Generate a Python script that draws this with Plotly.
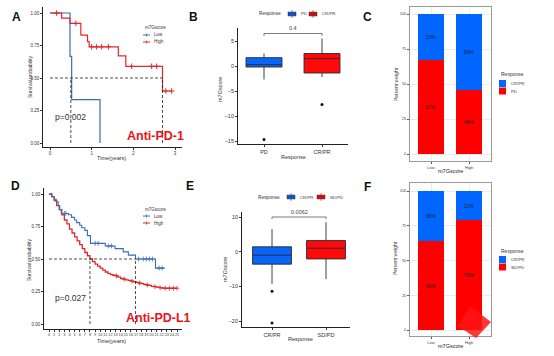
import plotly.graph_objects as go

W, H = 554, 356
FONT = "Liberation Sans, Arial, sans-serif"

# ---------------- data ----------------
# Panel A (Anti-PD-1) Kaplan-Meier
a_low_t = [0, 0.48, 0.52, 1.2]
a_low_s = [1.0, 0.667, 0.333, 0.0]
a_high_t = [0, 0.28, 0.48, 0.74, 0.90, 0.94, 1.64, 1.82, 2.70, 2.92]
a_high_s = [1.0, 0.96, 0.92, 0.83, 0.78, 0.74, 0.67, 0.59, 0.40, 0.40]
a_high_cens_t = [0.16, 0.62, 1.0, 1.12, 1.24, 1.40, 1.96, 2.44, 2.56, 2.78, 2.92]
a_high_cens_s = [1.0, 0.92, 0.74, 0.74, 0.74, 0.74, 0.59, 0.59, 0.59, 0.40, 0.40]
a_medians = [0.5, 2.7]
a_pval = "p=0.002"

# Panel B boxplot (m7Gscore by response)
b_cats = ["PD", "CR/PR"]
b_q1 = [-0.2, -1.4]
b_med = [0.27, 1.47]
b_q3 = [1.67, 2.5]
b_lo = [-2.7, -2.2]
b_hi = [2.5, 5.5]
b_out = [-14.7, -7.7]
b_p = "0.4"

# Panel C stacked percent
c_groups = ["Low", "High"]
c_pd = [67, 46]
c_crpr = [33, 54]

# Panel D (Anti-PD-L1) Kaplan-Meier
d_low_t = [0, 0.6, 1.0, 1.4, 1.8, 2.1, 2.4, 3.8, 4.4, 5.0, 5.4, 6.0, 6.4, 7.0, 7.5, 8.1,
           11.0, 12.9, 14.5, 15.5, 16.9, 20.8, 22.6]
d_low_s = [1.0, 0.98, 0.96, 0.94, 0.91, 0.88, 0.85, 0.84, 0.82, 0.80, 0.78, 0.76, 0.74, 0.72,
           0.68, 0.62, 0.60, 0.58, 0.555, 0.53, 0.50, 0.43, 0.43]
d_low_cens_t = [3.0, 3.3, 9.0, 9.6, 11.6, 12.2, 17.5, 18.4, 19.0, 19.6, 20.2, 21.5, 22.1]
d_low_cens_s = [0.85, 0.85, 0.62, 0.62, 0.60, 0.60, 0.50, 0.50, 0.50, 0.50, 0.50, 0.43, 0.43]
d_high_t = [0, 0.5, 1, 1.5, 2, 2.5, 3, 3.5, 4, 4.5, 5, 5.5, 6, 6.5, 7, 7.5, 8, 8.5, 9, 9.5,
            10, 10.5, 11, 11.5, 12, 12.5, 13, 13.5, 14, 14.5, 15, 15.5, 16, 16.5, 17, 17.5,
            18, 18.5, 19, 19.5, 20, 20.5, 21, 21.5, 22, 22.5, 23, 23.5, 24, 24.5, 25]
d_high_s = [1.0, 0.98, 0.95, 0.91, 0.88, 0.84, 0.80, 0.77, 0.73, 0.70, 0.67, 0.64, 0.61,
            0.58, 0.55, 0.525, 0.50, 0.48, 0.46, 0.445, 0.43, 0.415, 0.40, 0.39, 0.38,
            0.375, 0.37, 0.36, 0.35, 0.345, 0.34, 0.335, 0.33, 0.325, 0.32, 0.315, 0.31,
            0.305, 0.30, 0.297, 0.29, 0.287, 0.284, 0.28, 0.277, 0.275, 0.275, 0.275,
            0.275, 0.275, 0.275]
d_high_cens_t = [13.2, 14.7, 16.2, 17.7, 19.2, 20.7, 21.7, 22.7, 23.5, 24.3, 25.0]
d_high_cens_s = [0.37, 0.345, 0.33, 0.315, 0.30, 0.287, 0.28, 0.275, 0.275, 0.275, 0.275]
d_medians = [8.0, 16.9]
d_pval = "p=0.027"

# Panel E boxplot
e_cats = ["CR/PR", "SD/PD"]
e_q1 = [-3.6, -2.1]
e_med = [-1.0, 1.0]
e_q3 = [1.4, 3.2]
e_lo = [-9.3, -7.9]
e_hi = [6.5, 8.5]
e_out_x = ["CR/PR", "CR/PR"]
e_out_y = [-11.4, -20.6]
e_p = "0.0062"

# Panel F stacked percent
f_groups = ["Low", "High"]
f_sdpd = [64, 79]
f_crpr = [36, 21]

# ---------------- styling helpers ----------------
KM_BLUE = "#3A6DB5"
KM_RED = "#E0282E"
BOX_BLUE = "#0A64F5"
BOX_RED = "#FF0A0A"
BAR_BLUE = "#0066FF"
BAR_RED = "#FF0000"
DASH = "3px,2px"


def dx(a, b):
    return [a / W, b / W]


def dy(top, bot):
    return [1 - bot / H, 1 - top / H]


def lin(p0, v0, p1, v1, p):
    return v0 + (p - p0) * (v1 - v0) / (p1 - p0)


def px(x):
    return x / W


def py(y):
    return 1 - y / H


fig = go.Figure()

# ---------- Panel A ----------
fig.add_trace(go.Scatter(x=a_low_t, y=a_low_s, mode="lines", line=dict(color=KM_BLUE, width=1.2, shape="hv"),
                         xaxis="x", yaxis="y", showlegend=False))
fig.add_trace(go.Scatter(x=a_high_t, y=a_high_s, mode="lines", line=dict(color=KM_RED, width=1.2, shape="hv"),
                         xaxis="x", yaxis="y", showlegend=False))
fig.add_trace(go.Scatter(x=a_high_cens_t, y=a_high_cens_s, mode="markers",
                         marker=dict(symbol="cross-thin", size=4, line=dict(color=KM_RED, width=1)),
                         xaxis="x", yaxis="y", showlegend=False))
fig.add_trace(go.Scatter(x=[0, max(a_medians)], y=[0.5, 0.5], mode="lines",
                         line=dict(color="#222", width=0.8, dash=DASH), xaxis="x", yaxis="y", showlegend=False))
for m in a_medians:
    fig.add_trace(go.Scatter(x=[m, m], y=[0, 0.5], mode="lines",
                             line=dict(color="#222", width=0.8, dash=DASH), xaxis="x", yaxis="y", showlegend=False))

# ---------- Panel B ----------
for i, col in enumerate([BOX_BLUE, BOX_RED]):
    fig.add_trace(go.Box(x=[b_cats[i]], q1=[b_q1[i]], median=[b_med[i]], q3=[b_q3[i]],
                         lowerfence=[b_lo[i]], upperfence=[b_hi[i]], fillcolor=col,
                         line=dict(color="#2a2a2a", width=0.9), whiskerwidth=0, width=0.62,
                         boxpoints=False, xaxis="x2", yaxis="y2", showlegend=False))
fig.add_trace(go.Scatter(x=b_cats, y=b_out, mode="markers", marker=dict(color="#111", size=3),
                         xaxis="x2", yaxis="y2", showlegend=False))
fig.add_trace(go.Scatter(x=[b_cats[0], b_cats[0], b_cats[1], b_cats[1]], y=[6.0, 6.5, 6.5, 6.0], mode="lines",
                         line=dict(color="#444", width=0.7), xaxis="x2", yaxis="y2", showlegend=False))

# ---------- Panel C ----------
fig.add_trace(go.Bar(x=c_groups, y=c_pd, marker=dict(color=BAR_RED, line=dict(width=0)), width=0.68,
                     text=[f"{v}%" for v in c_pd], textposition="inside", insidetextanchor="middle",
                     textfont=dict(size=5, color="#222"), xaxis="x3", yaxis="y3", showlegend=False))
fig.add_trace(go.Bar(x=c_groups, y=c_crpr, marker=dict(color=BAR_BLUE, line=dict(width=0)), width=0.68,
                     text=[f"{v}%" for v in c_crpr], textposition="inside", insidetextanchor="middle",
                     textfont=dict(size=5, color="#222"), xaxis="x3", yaxis="y3", showlegend=False))

# ---------- Panel D ----------
fig.add_trace(go.Scatter(x=d_high_t, y=d_high_s, mode="lines", line=dict(color=KM_RED, width=1.3, shape="hv"),
                         xaxis="x4", yaxis="y4", showlegend=False))
fig.add_trace(go.Scatter(x=d_low_t, y=d_low_s, mode="lines", line=dict(color=KM_BLUE, width=1.1, shape="hv"),
                         xaxis="x4", yaxis="y4", showlegend=False))
fig.add_trace(go.Scatter(x=d_low_cens_t, y=d_low_cens_s, mode="markers",
                         marker=dict(symbol="cross-thin", size=3.5, line=dict(color=KM_BLUE, width=0.8)),
                         xaxis="x4", yaxis="y4", showlegend=False))
fig.add_trace(go.Scatter(x=d_high_cens_t, y=d_high_cens_s, mode="markers",
                         marker=dict(symbol="cross-thin", size=3.5, line=dict(color=KM_RED, width=0.8)),
                         xaxis="x4", yaxis="y4", showlegend=False))
fig.add_trace(go.Scatter(x=[0, max(d_medians)], y=[0.5, 0.5], mode="lines",
                         line=dict(color="#222", width=0.8, dash=DASH), xaxis="x4", yaxis="y4", showlegend=False))
for m in d_medians:
    fig.add_trace(go.Scatter(x=[m, m], y=[0, 0.5], mode="lines",
                             line=dict(color="#222", width=0.8, dash=DASH), xaxis="x4", yaxis="y4", showlegend=False))

# ---------- Panel E ----------
for i, col in enumerate([BOX_BLUE, BOX_RED]):
    fig.add_trace(go.Box(x=[e_cats[i]], q1=[e_q1[i]], median=[e_med[i]], q3=[e_q3[i]],
                         lowerfence=[e_lo[i]], upperfence=[e_hi[i]], fillcolor=col,
                         line=dict(color="#2a2a2a", width=0.9), whiskerwidth=0, width=0.72,
                         boxpoints=False, xaxis="x5", yaxis="y5", showlegend=False))
fig.add_trace(go.Scatter(x=e_out_x, y=e_out_y, mode="markers", marker=dict(color="#111", size=3),
                         xaxis="x5", yaxis="y5", showlegend=False))
fig.add_trace(go.Scatter(x=[e_cats[0], e_cats[0], e_cats[1], e_cats[1]], y=[9.4, 10, 10, 9.4], mode="lines",
                         line=dict(color="#444", width=0.7), xaxis="x5", yaxis="y5", showlegend=False))

# ---------- Panel F ----------
fig.add_trace(go.Bar(x=f_groups, y=f_sdpd, marker=dict(color=BAR_RED, line=dict(width=0)), width=0.68,
                     text=[f"{v}%" for v in f_sdpd], textposition="inside", insidetextanchor="middle",
                     textfont=dict(size=5, color="#222"), xaxis="x6", yaxis="y6", showlegend=False))
fig.add_trace(go.Bar(x=f_groups, y=f_crpr, marker=dict(color=BAR_BLUE, line=dict(width=0)), width=0.68,
                     text=[f"{v}%" for v in f_crpr], textposition="inside", insidetextanchor="middle",
                     textfont=dict(size=5, color="#222"), xaxis="x6", yaxis="y6", showlegend=False))

# ---------------- axes ----------------
axis_common = dict(showline=True, linecolor="#222", linewidth=0.8, ticks="outside", ticklen=2,
                   tickwidth=0.7, tickcolor="#333", showgrid=False, zeroline=False, tickangle=0,
                   tickfont=dict(size=4.5, color="#333", family=FONT))
bw_common = dict(showline=True, linecolor="#9a9a9a", linewidth=0.7, mirror=True, ticks="outside",
                 ticklen=2, tickwidth=0.6, tickcolor="#555", showgrid=True, gridcolor="#EBEBEB",
                 gridwidth=0.6, zeroline=False, tickangle=0, tickfont=dict(size=4, color="#444", family=FONT))

layout = dict(
    width=W, height=H, margin=dict(l=0, r=0, t=0, b=0), paper_bgcolor="white", plot_bgcolor="white",
    barmode="stack", showlegend=False, font=dict(family=FONT),
    xaxis=dict(axis_common, domain=dx(43, 182), range=[lin(50, 0, 175, 3, 43), lin(50, 0, 175, 3, 182)],
               tickvals=[0, 1, 2, 3], anchor="y"),
    yaxis=dict(axis_common, domain=dy(7, 147), range=[lin(143, 0, 13, 1, 147), lin(143, 0, 13, 1, 7)],
               tickvals=[0, 0.25, 0.5, 0.75, 1.0], tickformat=".2f", anchor="x"),
    xaxis2=dict(axis_common, domain=dx(238, 348), range=[lin(264, 0, 322, 1, 238), lin(264, 0, 322, 1, 348)],
                type="category", anchor="y2", tickfont=dict(size=5.5, color="#333", family=FONT)),
    yaxis2=dict(axis_common, domain=dy(28, 144), range=[lin(66, 0, 41, 5, 144), lin(66, 0, 41, 5, 28)],
                tickvals=[-15, -10, -5, 0, 5], anchor="x2", tickfont=dict(size=5.5, color="#333", family=FONT)),
    xaxis3=dict(bw_common, domain=dx(410, 491), range=[lin(431, 0, 469, 1, 410), lin(431, 0, 469, 1, 491)],
                type="category", anchor="y3"),
    yaxis3=dict(bw_common, domain=dy(7, 161), range=[lin(154, 0, 14, 100, 161), lin(154, 0, 14, 100, 7)],
                tickvals=[0, 25, 50, 75, 100], anchor="x3"),
    xaxis4=dict(axis_common, domain=dx(44, 182), range=[lin(49, 0, 177, 25, 44), lin(49, 0, 177, 25, 182)],
                tickvals=list(range(0, 26)), anchor="y4", tickfont=dict(size=3.8, color="#333", family=FONT)),
    yaxis4=dict(axis_common, domain=dy(188, 329), range=[lin(324, 0, 194, 1, 329), lin(324, 0, 194, 1, 188)],
                tickvals=[0, 0.25, 0.5, 0.75, 1.0], tickformat=".2f", anchor="x4"),
    xaxis5=dict(axis_common, domain=dx(242, 350), range=[lin(272, 0, 326, 1, 242), lin(272, 0, 326, 1, 350)],
                type="category", anchor="y5", tickfont=dict(size=5.5, color="#333", family=FONT)),
    yaxis5=dict(axis_common, domain=dy(212, 327), range=[lin(321, -20, 217, 10, 327), lin(321, -20, 217, 10, 212)],
                tickvals=[-20, -10, 0, 10], anchor="x5", tickfont=dict(size=5.5, color="#333", family=FONT)),
    xaxis6=dict(bw_common, domain=dx(410, 491), range=[lin(431, 0, 469, 1, 410), lin(431, 0, 469, 1, 491)],
                type="category", anchor="y6"),
    yaxis6=dict(bw_common, domain=dy(183, 336), range=[lin(330, 0, 191, 100, 336), lin(330, 0, 191, 100, 183)],
                tickvals=[0, 25, 50, 75, 100], anchor="x6"),
)
fig.update_layout(**layout)

# ---------------- annotations ----------------
ann = []


def text(x, y, s, size=5.5, color="#333", xanchor="center", angle=0, bold=False):
    d = dict(x=px(x), y=py(y), xref="paper", yref="paper", text=f"<b>{s}</b>" if bold else s,
             showarrow=False, xanchor=xanchor, yanchor="middle", textangle=angle,
             font=dict(size=size, color=color, family=FONT))
    ann.append(d)


# panel letters
for L, x, y in [("A", 16, 17), ("B", 193, 17), ("C", 367, 17), ("D", 15, 186), ("E", 190, 186), ("F", 367, 187)]:
    text(x, y, L, size=12, color="#111", bold=True)

# axis titles
text(112, 158, "Time(years)", size=5.5)
text(30, 77, "Survival probability", size=5, angle=-90)
text(220, 90, "m7Gscore", size=5.5, angle=-90)
text(293, 157, "Response", size=5.5)
text(396, 84, "Percent weight", size=5, angle=-90)
text(450, 171, "m7Gscore", size=5.5, color="#222")
text(112, 341, "Time(years)", size=5.5)
text(29, 260, "Survival probability", size=5, angle=-90)
text(225, 270, "m7Gscore", size=5.5, angle=-90)
text(300, 339, "Response", size=5.5)
text(395, 258, "Percent weight", size=5, angle=-90)
text(450, 346, "m7Gscore", size=5.5, color="#222")

# p values & labels
text(53, 117, a_pval, size=8.5, color="#333", xanchor="left")
text(125, 136, "Anti-PD-1", size=12.5, color="#E8141B", xanchor="left", bold=True)
text(53, 298, d_pval, size=8.5, color="#333", xanchor="left")
text(124, 318, "Anti-PD-L1", size=12.5, color="#E8141B", xanchor="left", bold=True)
ann.append(dict(x=0.5, y=7.5, xref="x2", yref="y2", text=b_p, showarrow=False,
                font=dict(size=5.5, color="#444", family=FONT)))
ann.append(dict(x=0.5, y=11.3, xref="x5", yref="y5", text=e_p, showarrow=False,
                font=dict(size=5.5, color="#444", family=FONT)))

shapes = []


def seg(x0, y0, x1, y1, color, width=1.0):
    shapes.append(dict(type="line", xref="paper", yref="paper", x0=px(x0), y0=py(y0), x1=px(x1), y1=py(y1),
                       line=dict(color=color, width=width)))


def rect(x0, y0, x1, y1, fill, lc=None, lw=0):
    shapes.append(dict(type="rect", xref="paper", yref="paper", x0=px(x0), y0=py(y0), x1=px(x1), y1=py(y1),
                       fillcolor=fill, line=dict(color=lc or fill, width=lw)))


# KM legends
for (ty, ly, hy) in [(28, 35, 42), (209, 216, 223)]:
    text(143, ty, "m7Gscore", size=4.5, xanchor="left")
    for yy, col, lab in [(ly, KM_BLUE, "Low"), (hy, KM_RED, "High")]:
        seg(143, yy, 150, yy, col, 1.0)
        seg(146.5, yy - 1.5, 146.5, yy + 1.5, col, 0.8)
        text(152, yy, lab, size=4.5, xanchor="left")


# Boxplot legends (horizontal)
def box_icon(x0, yc, col):
    seg(x0 + 4, yc - 4, x0 + 4, yc - 2, "#444", 0.6)
    seg(x0 + 4, yc + 2, x0 + 4, yc + 4, "#444", 0.6)
    rect(x0, yc - 2, x0 + 8, yc + 2, col, "#333", 0.5)
    seg(x0, yc, x0 + 8, yc, "#222", 0.6)


text(257, 14, "Response", size=4.8, xanchor="left")
box_icon(288, 14, BOX_BLUE)
text(299, 14, "PD", size=4.3, xanchor="left")
box_icon(309, 14, BOX_RED)
text(320, 14, "CR/PR", size=4.3, xanchor="left")

text(256, 197, "Response", size=4.8, xanchor="left")
box_icon(287, 197, BOX_BLUE)
text(298, 197, "CR/PR", size=4.3, xanchor="left")
box_icon(317, 197, BOX_RED)
text(328, 197, "SD/PD", size=4.3, xanchor="left")

# Bar legends
text(499, 74, "Response", size=5, xanchor="left")
rect(499, 80, 506, 87, BAR_BLUE)
text(509, 83.5, "CR/PR", size=4.3, xanchor="left")
rect(499, 87.5, 506, 94.5, BAR_RED)
text(509, 91, "PD", size=4.3, xanchor="left")

text(499, 251, "Response", size=5, xanchor="left")
rect(499, 256, 506, 263, BAR_BLUE)
text(509, 259.5, "CR/PR", size=4.3, xanchor="left")
rect(499, 263.5, 506, 270.5, BAR_RED)
text(509, 267, "SD/PD", size=4.3, xanchor="left")

# blurred red watermark blob in panel F
shapes.append(dict(type="path", xref="paper", yref="paper",
                   path=f"M {px(470)},{py(306)} L {px(491)},{py(322)} L {px(476)},{py(338)} L {px(458)},{py(326)} Z",
                   fillcolor="rgba(255,20,20,0.85)", line=dict(width=0)))

fig.update_layout(annotations=ann, shapes=shapes)
fig.write_html("out.html", config={"displayModeBar": False},
               post_script="document.body.style.margin='0';document.body.style.overflow='hidden';")
